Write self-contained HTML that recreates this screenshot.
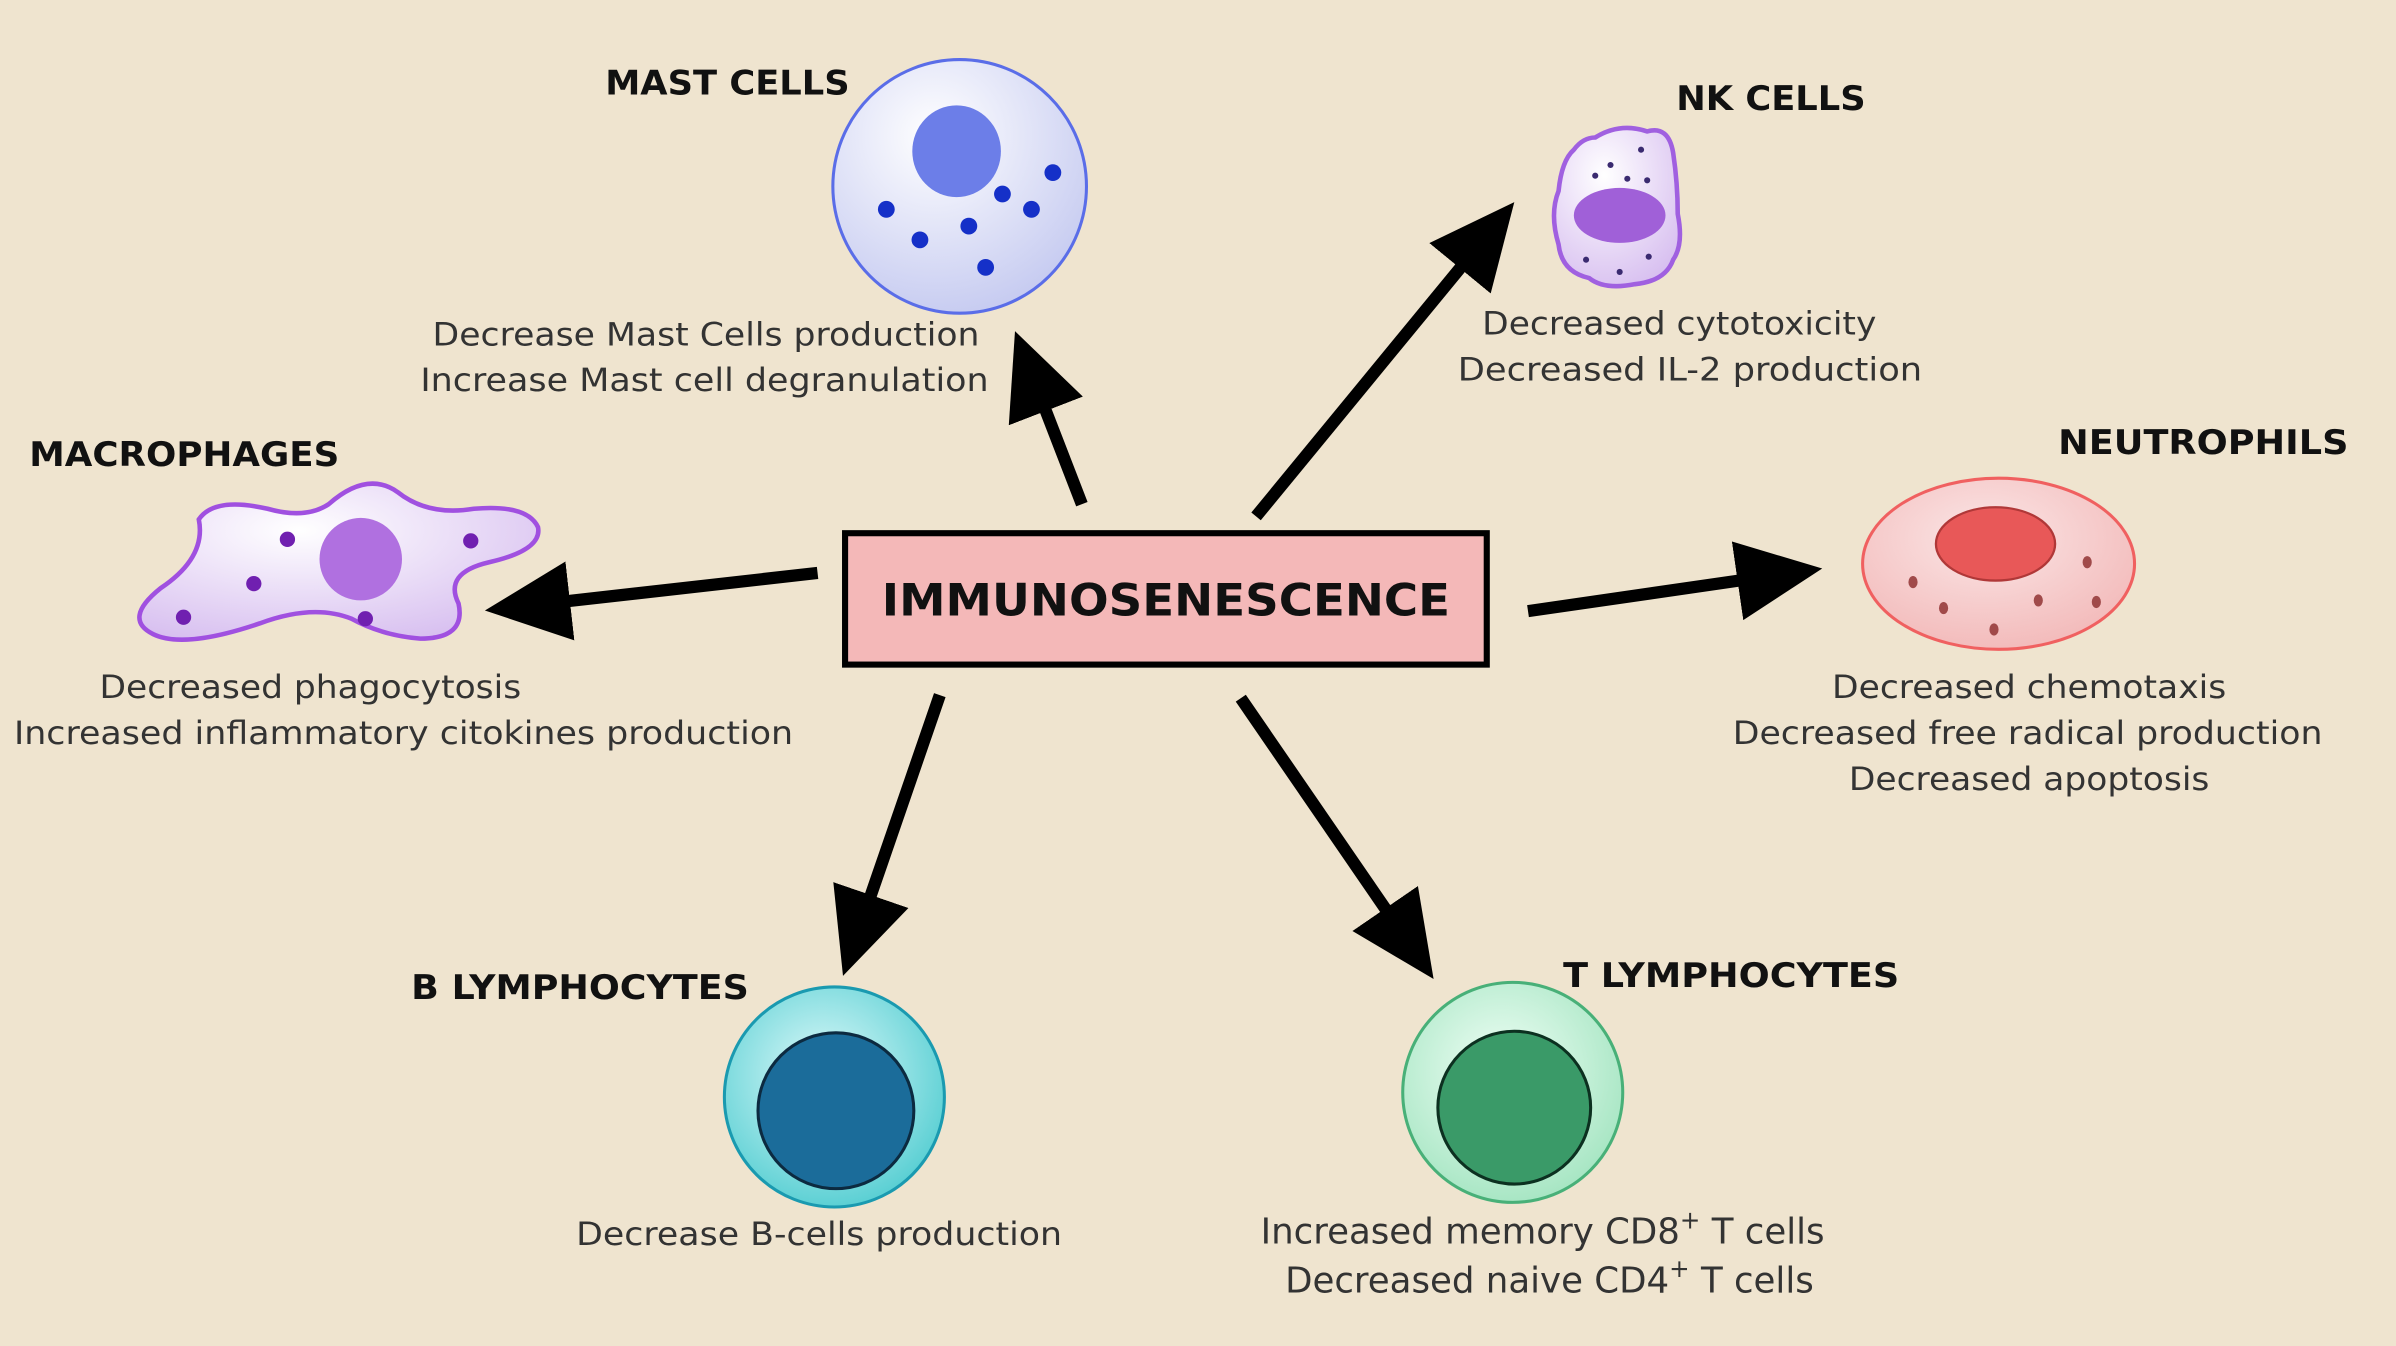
<!DOCTYPE html>
<html><head><meta charset="utf-8"><style>
html,body{margin:0;padding:0;background:#efe4cf;}
svg{display:block}
.h{font-family:"DejaVu Sans","Liberation Sans",sans-serif;font-weight:bold;font-size:22px;fill:#111}
.t{font-family:"DejaVu Sans","Liberation Sans",sans-serif;font-size:21px;fill:#333;text-anchor:middle}
</style></head><body>
<svg width="2396" height="1346" viewBox="0 0 1568 881" xmlns="http://www.w3.org/2000/svg">
<defs>
<marker id="ah" markerUnits="userSpaceOnUse" markerWidth="60" markerHeight="56" refX="15" refY="26" orient="auto"><path d="M0,0 L56,26 L0,52 z" fill="#000"/></marker>
<radialGradient id="gm" cx="40%" cy="30%" r="75%"><stop offset="0" stop-color="#ffffff"/><stop offset="1" stop-color="#c4c9f0"/></radialGradient>
<radialGradient id="gk" cx="40%" cy="30%" r="75%"><stop offset="0" stop-color="#ffffff"/><stop offset="1" stop-color="#d8c0f0"/></radialGradient>
<radialGradient id="gn" cx="45%" cy="35%" r="70%"><stop offset="0" stop-color="#fbe6e6"/><stop offset="1" stop-color="#f2b8b8"/></radialGradient>
<radialGradient id="gb" cx="45%" cy="40%" r="60%"><stop offset="0" stop-color="#e0fafa"/><stop offset="1" stop-color="#5cd0d4"/></radialGradient>
<radialGradient id="gt" cx="45%" cy="40%" r="60%"><stop offset="0" stop-color="#f0fff6"/><stop offset="1" stop-color="#a8e6c4"/></radialGradient>
</defs>
<rect width="1568" height="881" fill="#efe4cf"/>

<g stroke="#000" stroke-width="8" marker-end="url(#ah)">
<line x1="708" y1="330" x2="679" y2="255"/>
<line x1="822" y1="338" x2="965" y2="164"/>
<line x1="535" y1="375" x2="358" y2="395"/>
<line x1="1000" y1="400" x2="1152" y2="378"/>
<line x1="615" y1="455" x2="565" y2="600"/>
<line x1="812" y1="457" x2="915" y2="607"/>
</g>

<rect x="553" y="349" width="420" height="86" fill="#f4b8b8" stroke="#000" stroke-width="4"/>
<text x="763" y="403" text-anchor="middle" class="h" style="font-size:29px" textLength="372" lengthAdjust="spacingAndGlyphs">IMMUNOSENESCENCE</text>

<circle cx="628" cy="122" r="83" fill="url(#gm)" stroke="#5a6de8" stroke-width="2"/>
<ellipse cx="626" cy="99" rx="29" ry="30" fill="#6c7ee8"/>
<g fill="#1530c8"><circle cx="580" cy="137" r="5.5"/><circle cx="602" cy="157" r="5.5"/><circle cx="634" cy="148" r="5.5"/><circle cx="656" cy="127" r="5.5"/><circle cx="675" cy="137" r="5.5"/><circle cx="689" cy="113" r="5.5"/><circle cx="645" cy="175" r="5.5"/></g>
<text x="396" y="62" class="h" textLength="160" lengthAdjust="spacingAndGlyphs">MAST CELLS</text>
<text x="462" y="226" class="t" textLength="358" lengthAdjust="spacingAndGlyphs">Decrease Mast Cells production</text>
<text x="461" y="256" class="t" textLength="372" lengthAdjust="spacingAndGlyphs">Increase Mast cell degranulation</text>

<path d="M1044,90 Q1060,80 1078,86 Q1092,82 1095,100 Q1098,120 1098,140 Q1102,160 1095,170 Q1090,184 1070,186 Q1050,190 1040,182 Q1022,178 1020,160 Q1014,140 1020,125 Q1022,105 1030,98 Q1036,90 1044,90 z" fill="url(#gk)" stroke="#a060e0" stroke-width="3"/>
<ellipse cx="1060" cy="141" rx="30" ry="18" fill="#a060d8"/>
<g fill="#3a2a70"><circle cx="1044" cy="115" r="2"/><circle cx="1054" cy="108" r="2"/><circle cx="1065" cy="117" r="2"/><circle cx="1078" cy="118" r="2"/><circle cx="1074" cy="98" r="2"/><circle cx="1038" cy="170" r="2"/><circle cx="1060" cy="178" r="2"/><circle cx="1079" cy="168" r="2"/></g>
<text x="1097" y="72" class="h" textLength="124" lengthAdjust="spacingAndGlyphs">NK CELLS</text>
<text x="1099" y="219" class="t" textLength="258" lengthAdjust="spacingAndGlyphs">Decreased cytotoxicity</text>
<text x="1106" y="249" class="t" textLength="304" lengthAdjust="spacingAndGlyphs">Decreased IL-2 production</text>

<path d="M130,340 Q140,325 175,333 Q200,340 215,330 Q240,308 260,322 Q280,338 310,333 Q345,330 352,345 Q355,360 320,368 Q290,375 300,395 Q305,418 275,418 Q250,416 230,405 Q205,395 170,408 Q120,425 100,415 Q80,405 105,385 Q135,365 130,340 z" fill="url(#gk)" stroke="#a050e0" stroke-width="3"/>
<ellipse cx="236" cy="366" rx="27" ry="27" fill="#b070e0"/>
<g fill="#7020b0"><circle cx="188" cy="353" r="5"/><circle cx="166" cy="382" r="5"/><circle cx="120" cy="404" r="5"/><circle cx="239" cy="405" r="5"/><circle cx="308" cy="354" r="5"/></g>
<text x="19" y="305" class="h" textLength="203" lengthAdjust="spacingAndGlyphs">MACROPHAGES</text>
<text x="203" y="457" class="t" textLength="276" lengthAdjust="spacingAndGlyphs">Decreased phagocytosis</text>
<text x="264" y="487" class="t" textLength="510" lengthAdjust="spacingAndGlyphs">Increased inflammatory citokines production</text>

<ellipse cx="1308" cy="369" rx="89" ry="56" fill="url(#gn)" stroke="#f06060" stroke-width="2"/>
<ellipse cx="1306" cy="356" rx="39" ry="24" fill="#e85858" stroke="#b03838" stroke-width="1.5"/>
<g fill="#a04a4a"><ellipse cx="1252" cy="381" rx="3" ry="4"/><ellipse cx="1272" cy="398" rx="3" ry="4"/><ellipse cx="1305" cy="412" rx="3" ry="4"/><ellipse cx="1334" cy="393" rx="3" ry="4"/><ellipse cx="1366" cy="368" rx="3" ry="4"/><ellipse cx="1372" cy="394" rx="3" ry="4"/></g>
<text x="1347" y="297" class="h" textLength="190" lengthAdjust="spacingAndGlyphs">NEUTROPHILS</text>
<text x="1328" y="457" class="t" textLength="258" lengthAdjust="spacingAndGlyphs">Decreased chemotaxis</text>
<text x="1327" y="487" class="t" textLength="386" lengthAdjust="spacingAndGlyphs">Decreased free radical production</text>
<text x="1328" y="517" class="t" textLength="236" lengthAdjust="spacingAndGlyphs">Decreased apoptosis</text>

<circle cx="546" cy="718" r="72" fill="url(#gb)" stroke="#1a9ab0" stroke-width="2"/>
<circle cx="547" cy="727" r="51" fill="#1b6c9a" stroke="#0c2a40" stroke-width="2"/>
<text x="269" y="654" class="h" textLength="221" lengthAdjust="spacingAndGlyphs">B LYMPHOCYTES</text>
<text x="536" y="815" class="t" textLength="318" lengthAdjust="spacingAndGlyphs">Decrease B-cells production</text>

<circle cx="990" cy="715" r="72" fill="url(#gt)" stroke="#48b078" stroke-width="2"/>
<circle cx="991" cy="725" r="50" fill="#3a9a68" stroke="#0c3020" stroke-width="2"/>
<text x="1023" y="646" class="h" textLength="220" lengthAdjust="spacingAndGlyphs">T LYMPHOCYTES</text>
<text x="825" y="814" class="t" style="text-anchor:start;font-size:23.3px">Increased memory CD8<tspan dy="-10" font-size="16">+</tspan><tspan dy="10"> T cells</tspan></text>
<text x="841" y="846" class="t" style="text-anchor:start;font-size:23.3px">Decreased naive CD4<tspan dy="-10" font-size="16">+</tspan><tspan dy="10"> T cells</tspan></text>
</svg>
</body></html>
